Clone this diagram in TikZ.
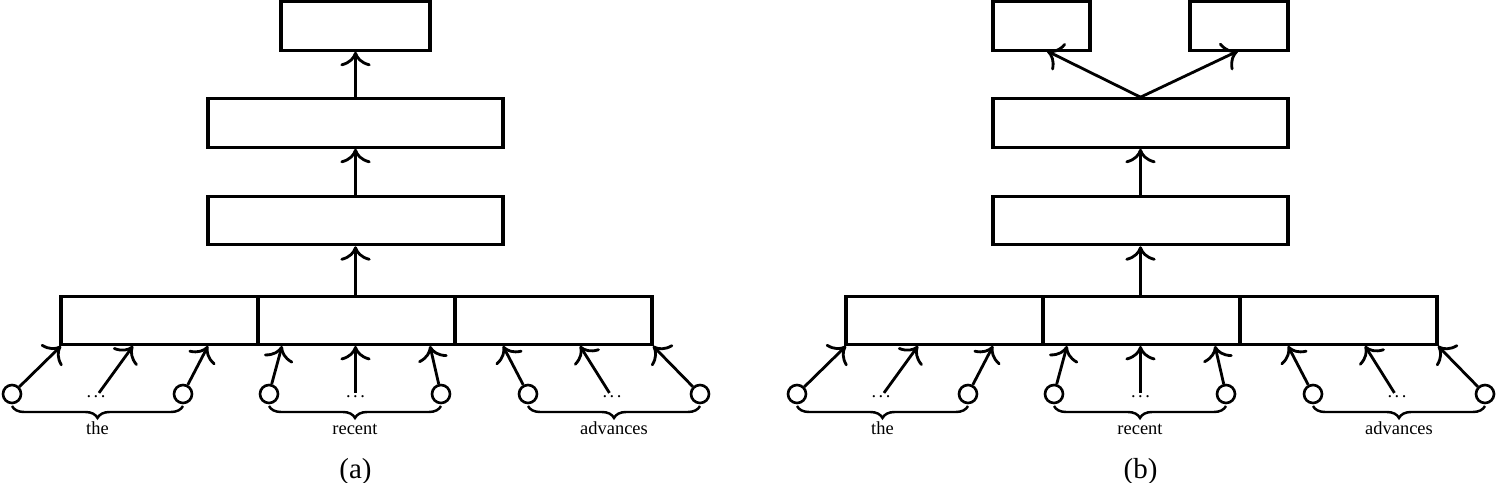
\documentclass[tikz,border=0pt]{standalone}
\usepackage{fontspec}
\setmainfont{Liberation Serif}
\usetikzlibrary{arrows.meta,decorations.pathreplacing}
\newcommand{\mydots}{.\kern1.4pt.\kern1.4pt.}
\begin{document}
\begin{tikzpicture}[x=0.02cm,y=-0.02cm,
  box/.style={draw, line width=1.8pt, inner sep=0, minimum height=0.97cm},
  tok/.style={draw, circle, line width=1.5pt, minimum size=0.36cm, inner sep=0},
  dotsnode/.style={inner sep=1.5pt, font=\fontsize{10.5}{12}\selectfont},
  arr/.style={line width=1.6pt, -{To[scale=1.6]}},
  brc/.style={decorate, decoration={brace, mirror, amplitude=0.24cm}, line width=1.4pt},
  word/.style={anchor=base, font=\fontsize{10.5}{12}\selectfont},
  captxt/.style={anchor=base, font=\fontsize{16.5}{18}\selectfont}]
\useasboundingbox (0,0) rectangle (1499,483);

% ---------------- panel (a) ----------------
\node[box, minimum width=2.98cm] (a4) at (355.5,26) {};
\node[box, minimum width=5.9cm] (a3) at (355.5,123) {};
\node[box, minimum width=5.9cm] (a2) at (355.5,220.5) {};
\node[box, minimum width=3.94cm] (a1l) at (159.5,320.5) {};
\node[box, minimum width=3.94cm] (a1m) at (356.5,320.5) {};
\node[box, minimum width=3.94cm] (a1r) at (553.5,320.5) {};
\draw[arr] (a3.north) -- (a4.south);
\draw[arr] (a2.north) -- (a3.south);
\draw[arr] (a2.south |- a1m.north) -- (a2.south);

\foreach \g/\ca/\d/\cb/\ta/\tb/\tc/\w in {
  1/12/96/183/61/133/208/the,
  2/269/355.5/441/282/355.5/430/recent,
  3/528/612/700/503/580/653/advances}{
  \node[tok] (ac\g a) at (\ca,394) {};
  \node[tok] (ac\g b) at (\cb,394) {};
  \node[dotsnode] (ad\g) at (\d,397) {\mydots};
  \coordinate (at\g a) at (\ta,346);
  \coordinate (at\g b) at (\tb,346);
  \coordinate (at\g c) at (\tc,346);
  \draw[arr] (ac\g a) -- (at\g a);
  \draw[arr] (ad\g) -- (at\g b);
  \draw[arr] (ac\g b) -- (at\g c);
  \draw[brc] ([yshift=-0.24cm]ac\g a.center) -- ([yshift=-0.24cm]ac\g b.center)
    node[word, midway, yshift=-0.58cm] (aw\g) {\w};
}
\node[captxt] (capa) at (355.5,478) {(a)};

% ---------------- panel (b) ----------------
\node[box, minimum width=1.94cm] (b4l) at (1041.5,26) {};
\node[box, minimum width=1.96cm] (b4r) at (1239,26) {};
\node[box, minimum width=5.9cm] (b3) at (1140.5,123) {};
\node[box, minimum width=5.9cm] (b2) at (1140.5,220.5) {};
\node[box, minimum width=3.94cm] (b1l) at (944.5,320.5) {};
\node[box, minimum width=3.94cm] (b1m) at (1141.5,320.5) {};
\node[box, minimum width=3.94cm] (b1r) at (1338.5,320.5) {};
\coordinate (bt4l) at (1047,51);
\coordinate (bt4r) at (1238,51);
\draw[arr] (b3.north) -- (bt4l);
\draw[arr] (b3.north) -- (bt4r);
\draw[arr] (b2.north) -- (b3.south);
\draw[arr] (b2.south |- b1m.north) -- (b2.south);

\foreach \g/\ca/\d/\cb/\ta/\tb/\tc/\w in {
  1/797/881/968/846/918/993/the,
  2/1054/1140.5/1226/1067/1140.5/1215/recent,
  3/1313/1397/1485/1288/1365/1438/advances}{
  \node[tok] (bc\g a) at (\ca,394) {};
  \node[tok] (bc\g b) at (\cb,394) {};
  \node[dotsnode] (bd\g) at (\d,397) {\mydots};
  \coordinate (bt\g a) at (\ta,346);
  \coordinate (bt\g b) at (\tb,346);
  \coordinate (bt\g c) at (\tc,346);
  \draw[arr] (bc\g a) -- (bt\g a);
  \draw[arr] (bd\g) -- (bt\g b);
  \draw[arr] (bc\g b) -- (bt\g c);
  \draw[brc] ([yshift=-0.24cm]bc\g a.center) -- ([yshift=-0.24cm]bc\g b.center)
    node[word, midway, yshift=-0.58cm] (bw\g) {\w};
}
\node[captxt] (capb) at (1140.5,478) {(b)};
\end{tikzpicture}
\end{document}
